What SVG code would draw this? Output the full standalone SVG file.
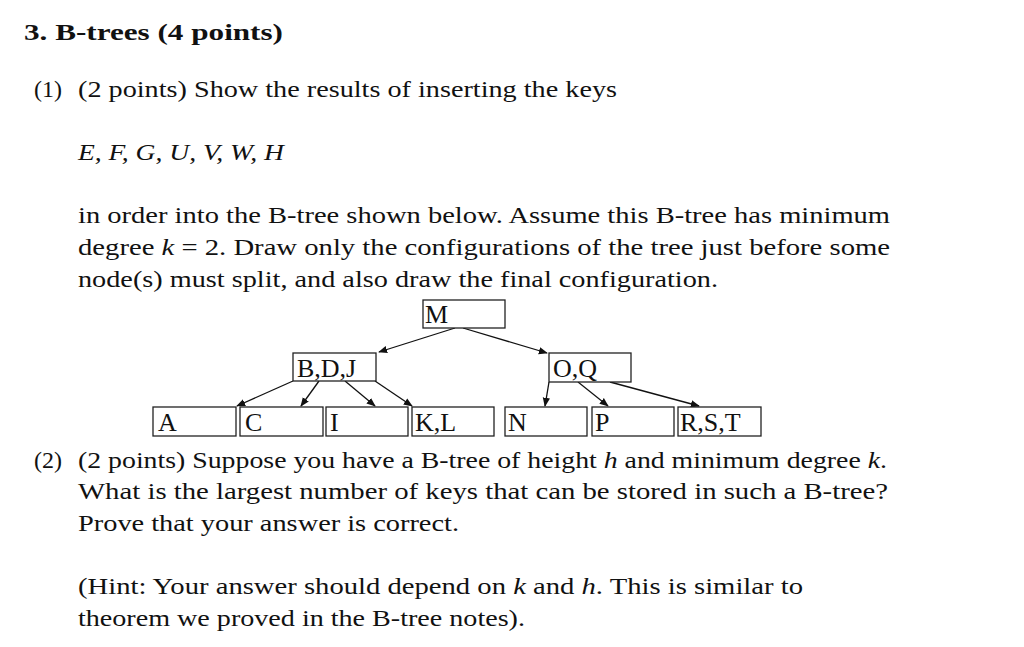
<svg xmlns="http://www.w3.org/2000/svg" width="1024" height="647" viewBox="0 0 1024 647">
<defs>
<style>
text{font-family:"Liberation Serif","DejaVu Serif",serif;font-size:24px;fill:#111}
.n text{font-size:26px}
.n rect{fill:#fff;stroke:#222;stroke-width:1.3}
.c line{stroke:#111;stroke-width:1.3;marker-end:url(#ah)}
</style>
<marker id="ah" viewBox="0 0 10 10" refX="9" refY="5" markerWidth="7" markerHeight="7" orient="auto"><path d="M0,1 L10,5 L0,9 z" fill="#111"/></marker>
</defs>
<rect width="1024" height="647" fill="#fff"/>
<text x="24" y="40" font-weight="bold" textLength="259" lengthAdjust="spacingAndGlyphs">3. B-trees (4 points)</text>
<text x="34" y="97">(1)</text><text x="78" y="97" textLength="539" lengthAdjust="spacingAndGlyphs">(2 points) Show the results of inserting the keys</text>
<text x="78" y="160" font-style="italic" textLength="206" lengthAdjust="spacingAndGlyphs">E, F, G, U, V, W, H</text>
<text x="78" y="223" textLength="812" lengthAdjust="spacingAndGlyphs">in order into the B-tree shown below. Assume this B-tree has minimum</text>
<text x="78" y="255" textLength="812" lengthAdjust="spacingAndGlyphs">degree <tspan font-style="italic">k</tspan> = 2. Draw only the configurations of the tree just before some</text>
<text x="78" y="287" textLength="640" lengthAdjust="spacingAndGlyphs">node(s) must split, and also draw the final configuration.</text>
<g class="c">
<line x1="455" y1="328" x2="379" y2="352"/>
<line x1="463" y1="328" x2="547" y2="353"/>
<line x1="293" y1="381" x2="237" y2="406"/>
<line x1="319" y1="381" x2="301" y2="406"/>
<line x1="345" y1="381" x2="375" y2="406"/>
<line x1="375" y1="381" x2="412" y2="406"/>
<line x1="549" y1="382" x2="545" y2="406"/>
<line x1="578" y1="382" x2="608" y2="406"/>
<line x1="610" y1="382" x2="699" y2="406"/>
</g>
<g class="n" id="nM"><rect x="423" y="300" width="82" height="28"/><text x="425" y="323">M</text></g>
<g class="n" id="nBDJ"><rect x="293" y="353" width="83" height="28"/><text x="297" y="377">B,D,J</text></g>
<g class="n" id="nOQ"><rect x="549" y="353" width="82" height="29"/><text x="553" y="377">O,Q</text></g>
<g class="n" id="nA"><rect x="153" y="407" width="83" height="29"/><text x="158" y="431">A</text></g>
<g class="n" id="nC"><rect x="240" y="407" width="83" height="29"/><text x="245" y="431">C</text></g>
<g class="n" id="nI"><rect x="326" y="407" width="82" height="29"/><text x="330" y="431">I</text></g>
<g class="n" id="nKL"><rect x="412" y="407" width="82" height="29"/><text x="415" y="431">K,L</text></g>
<g class="n" id="nN"><rect x="505" y="407" width="82" height="29"/><text x="508" y="431">N</text></g>
<g class="n" id="nP"><rect x="592" y="407" width="82" height="29"/><text x="595" y="431">P</text></g>
<g class="n" id="nRST"><rect x="678" y="407" width="83" height="29"/><text x="680" y="431">R,S,T</text></g>
<text x="34" y="468">(2)</text><text x="78" y="468" textLength="809" lengthAdjust="spacingAndGlyphs">(2 points) Suppose you have a B-tree of height <tspan font-style="italic">h</tspan> and minimum degree <tspan font-style="italic">k</tspan>.</text>
<text x="78" y="499" textLength="810" lengthAdjust="spacingAndGlyphs">What is the largest number of keys that can be stored in such a B-tree?</text>
<text x="78" y="531" textLength="381" lengthAdjust="spacingAndGlyphs">Prove that your answer is correct.</text>
<text x="78" y="594" textLength="725" lengthAdjust="spacingAndGlyphs">(Hint: Your answer should depend on <tspan font-style="italic">k</tspan> and <tspan font-style="italic">h</tspan>. This is similar to</text>
<text x="78" y="626" textLength="447" lengthAdjust="spacingAndGlyphs">theorem we proved in the B-tree notes).</text>
</svg>
